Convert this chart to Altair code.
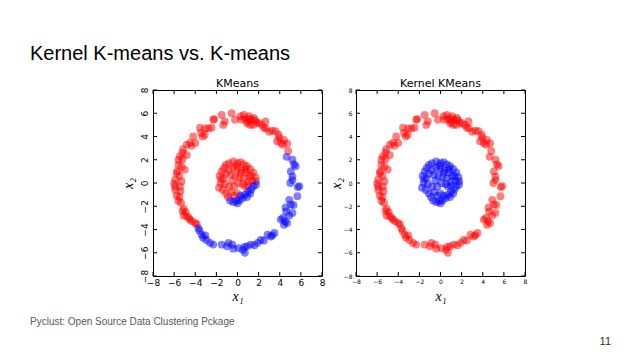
import altair as alt
import pandas as pd

# ---------------- data ----------------
# outer ring, red in both panels
ring_red_x = [4.8, 4.7, 4.4, 4.1, 3.9, 3.75, 3.6, 3.95, 4.3, 3.3, 3.0, 2.7, 2.5, 2.65, 2.3, 2.05, 1.8, 1.55,
              1.5, 1.3, 1.1, 1.0, 0.9, 0.7, 0.6, 0.35, 0.3, 1.65, 1.2, 0.95, -0.24, -0.55, -1.2, -1.35, -1.5,
              -2.3, -2.2, -2.45, -2.75, -3.1, -3.05, -3.55, -3.45, -3.3, -4.2, -4.0, -4.5, -4.35, -4.8, -5.15,
              -5.2, -4.8, -5.45, -5.6, -5.2, -5.6, -5.3, -5.0, -5.7, -5.75, -5.5, -5.9, -5.3, -6.0, -5.9, -5.45,
              -5.4, -5.9, -5.75, -5.5, -5.6, -5.35, -5.1, -5.2, -4.9, -5.1, -4.8, -4.6, -4.5, -4.3, -4.0, -3.85]
ring_red_y = [2.75, 3.4, 3.7, 3.45, 4.15, 3.6, 4.45, 3.9, 3.3, 4.5, 4.4, 4.7, 4.75, 5.3, 5.0, 5.15, 5.2, 5.6,
              5.0, 5.45, 5.75, 5.3, 5.15, 5.5, 5.85, 5.45, 5.75, 5.4, 5.0, 5.55, 5.45, 6.0, 5.3, 5.0, 5.85,
              5.45, 5.5, 4.75, 4.7, 4.15, 4.7, 4.75, 4.3, 4.0, 4.0, 3.45, 3.45, 3.2, 3.3, 2.9,
              2.6, 2.4, 2.3, 2.0, 2.05, 1.55, 1.4, 1.15, 1.0, 0.85, 0.6, 0.3, 0.15, -0.05, -0.3, -0.3,
              -0.7, -0.6, -1.1, -1.2, -1.55, -1.7, -2.2, -2.4, -2.5, -2.8, -2.85, -3.0, -3.15, -3.3, -3.45, -3.55]

# outer ring, blue in KMeans, red in Kernel KMeans
ring_blue_x = [4.65, 5.2, 5.35, 5.5, 5.05, 5.2, 5.2, 5.0, 5.85, 5.7, 5.67, 4.9, 5.05, 5.3, 4.55, 5.2, 4.6,
               4.9, 4.1, 4.3, 4.7, 4.4, 4.5, 3.5, 3.3, 3.15, 2.85, 2.5, 2.2, 1.9, 1.6, 1.25, 0.9, 0.65, 0.5,
               0.7, 0.1, -0.4, -0.5, -0.85, -1.0, -1.5, -2.3, -2.6, -2.95, -3.25, -3.4, -3.05, -3.7, -3.6]
ring_blue_y = [2.25, 2.0, 1.6, 1.45, 1.0, 0.55, 0.25, 0.0, -0.28, -0.35, -1.14, -1.45, -1.85, -1.9, -2.1, -2.57,
               -2.45, -2.8, -3.15, -3.0, -3.45, -3.6, -3.3, -4.3, -4.5, -4.6, -4.45, -4.95, -4.9, -5.15, -5.35,
               -5.3, -5.45, -5.5, -5.75, -6.0, -5.6, -5.65, -5.3, -5.15, -5.45, -5.3, -5.3, -5.15, -4.9, -4.7,
               -4.45, -4.5, -3.9, -4.1]

# inner cluster, red in KMeans, blue in Kernel KMeans
inner_red_x = [-1.7, -1.6, -1.75, -1.5, -1.3, -1.1, -0.8, -0.4, 0.0, 0.3, 0.6, 0.9, 1.2, 1.5, 1.7, 1.75, 1.4,
               1.1, 0.8, 0.4, 0.0, -0.4, -0.8, -1.1, -1.3, -1.2, -1.4, -1.1, -0.9, -0.6, -0.8, -0.5, -0.2,
               0.2, 0.6, 1.0, 0.5, 0.1, -0.3, -0.6, 0.3, -0.1, 0.8, 1.3, -1.55, -0.3, 0.0, 0.7, 1.0]
inner_red_y = [0.6, 0.0, -0.4, 1.0, 1.3, 1.55, 1.7, 1.85, 1.7, 1.8, 1.6, 1.45, 1.2, 0.9, 0.5, 0.15, 0.2,
               0.6, 0.9, 1.1, 1.2, 1.3, 1.1, 0.8, 0.4, -0.1, -0.6, -0.9, -1.2, -0.8, -0.3, 0.2, 0.6,
               0.5, 0.4, 0.1, -0.1, 0.0, -0.3, 0.7, 0.9, 1.5, 1.2, 0.6, 0.35, -1.1, -0.9, -0.3, -0.2]

# inner cluster, blue in both panels
inner_blue_x = [-0.7, -0.4, -0.1, 0.2, 0.5, 0.7, 1.0, 1.3, 1.5, 1.75, 0.3, 0.9, 1.2, 0.0]
inner_blue_y = [-1.5, -1.65, -1.55, -1.5, -1.3, -1.0, -0.75, -0.55, -0.3, -0.15, -1.1, -1.2, -0.9, -1.75]

tick_vals = [-8, -6, -4, -2, 0, 2, 4, 6, 8]
panel_titles = ["KMeans", "Kernel KMeans"]
slide_title = "Kernel K-means vs. K-means"
footer_text = "Pyclust: Open Source Data Clustering Pckage"
page_number = "11"

# ---------------- tables ----------------
rows = []
for xs_, ys_, km, kk in [(ring_red_x, ring_red_y, "red", "red"),
                          (ring_blue_x, ring_blue_y, "blue", "red"),
                          (inner_red_x, inner_red_y, "red", "blue"),
                          (inner_blue_x, inner_blue_y, "blue", "blue")]:
    for a, b in zip(xs_, ys_):
        rows.append({"x": a, "y": b, "km": km, "kk": kk})
pts = pd.DataFrame(rows)
ticks = pd.DataFrame({"x": tick_vals, "y": tick_vals})

W, H = 169, 186
DOM = [-8, 8]
color_scale = alt.Scale(domain=["red", "blue"], range=["#ff0000", "#0000ff"])
label_expr = "datum.value < 0 ? '\u2212' + format(-datum.value, 'd') : format(datum.value, 'd')"


def text_layer(s, x, y, size, font, color, align="left"):
    return alt.Chart(pd.DataFrame({"s": [s]})).mark_text(
        align=align, baseline="alphabetic", fontSize=size, font=font, color=color).encode(
        x=alt.value(x), y=alt.value(y), text="s:N")


def panel(title, color_field, big, extra_layers):
    lab = 9 if big else 6
    xs = alt.Scale(domain=DOM, nice=False, zero=False)
    ys = alt.Scale(domain=DOM, nice=False, zero=False)
    ax_x = alt.Axis(values=tick_vals, labelExpr=label_expr, title="x\u2081", labelFontSize=lab,
                    labelFont="DejaVu Sans", labelColor="black", labelPadding=2, labelOverlap=False,
                    labelFlush=False,
                    titleFont="Liberation Serif", titleFontStyle="italic", titleFontWeight="normal",
                    titleFontSize=14, titleColor="black", titleBaseline="middle",
                    titleX=W / 2, titleY=20)
    if big:
        ax_y = alt.Axis(values=tick_vals, labelExpr=label_expr, title="x\u2082", labelFontSize=lab,
                        labelFont="DejaVu Sans", labelColor="black", labelAngle=270, labelOverlap=False,
                        labelFlush=False,
                        labelAlign="center", labelBaseline="alphabetic", labelPadding=6,
                        titleFont="Liberation Serif", titleFontStyle="italic", titleFontWeight="normal",
                        titleFontSize=14, titleColor="black", titleAngle=270, titleBaseline="middle",
                        titleX=-25, titleY=H / 2)
    else:
        ax_y = alt.Axis(values=tick_vals, labelExpr=label_expr, title="x\u2082", labelFontSize=lab,
                        labelFont="DejaVu Sans", labelColor="black", labelPadding=4, labelOverlap=False,
                        labelFlush=False,
                        titleFont="Liberation Serif", titleFontStyle="italic", titleFontWeight="normal",
                        titleFontSize=14, titleColor="black", titleAngle=270, titleBaseline="middle",
                        titleX=-20, titleY=H / 2)
    points = alt.Chart(pts).mark_circle(size=62, opacity=0.5).encode(
        x=alt.X("x:Q", scale=xs, axis=ax_x),
        y=alt.Y("y:Q", scale=ys, axis=ax_y),
        color=alt.Color(color_field + ":N", scale=color_scale, legend=None),
    )
    tb = alt.Chart(ticks)
    t_bottom = tb.mark_rule(color="black").encode(x=alt.X("x:Q", scale=xs, axis=ax_x), y=alt.value(H), y2=alt.value(H - 4))
    t_top = tb.mark_rule(color="black").encode(x=alt.X("x:Q", scale=xs, axis=ax_x), y=alt.value(0), y2=alt.value(4))
    t_left = tb.mark_rule(color="black").encode(y=alt.Y("y:Q", scale=ys, axis=ax_y), x=alt.value(0), x2=alt.value(4))
    t_right = tb.mark_rule(color="black").encode(y=alt.Y("y:Q", scale=ys, axis=ax_y), x=alt.value(W), x2=alt.value(W - 4))
    ttl = text_layer(title, W / 2, -3, 11, "DejaVu Sans", "black", align="center")
    return alt.layer(points, t_bottom, t_top, t_left, t_right, ttl, *extra_layers).properties(
        width=W, height=H)


anchor = alt.Chart(pd.DataFrame({"a": [0]})).mark_rule(strokeOpacity=0).encode(
    x=alt.value(-144), x2=alt.value(-143), y=alt.value(-81))
title_t = text_layer(slide_title, -123, -30, 20, "Liberation Sans", "#000000")
footer_t = text_layer(footer_text, -123, 234.5, 10, "Liberation Sans", "#595959")
page_t = text_layer(page_number, 255, 255, 11, "Liberation Sans", "#333333", align="right")

left = panel(panel_titles[0], "km", True, [anchor, title_t, footer_t])
right = panel(panel_titles[1], "kk", False, [page_t])

chart = alt.hconcat(left, right, spacing=34, bounds="flush").properties(
    padding={"left": 0, "top": 0, "right": 0, "bottom": 0},
    background="white",
).configure_view(stroke="black", strokeWidth=1).configure_axis(
    domain=False, ticks=False, grid=False
)

chart.save("out.html", embed_options={"renderer": "svg", "actions": False})
